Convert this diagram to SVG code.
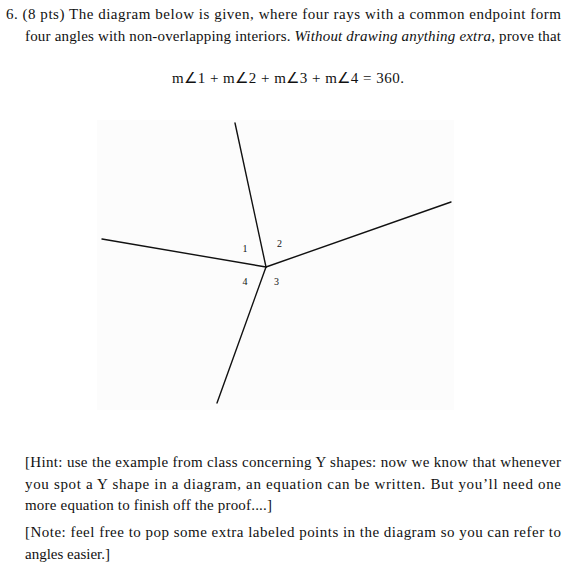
<svg xmlns="http://www.w3.org/2000/svg" width="568" height="569" viewBox="0 0 568 569">
<style>
.t{font-family:"Liberation Serif","Times New Roman",serif;font-size:15px;fill:#111}
.lb{font-family:"Liberation Serif","Times New Roman",serif;font-size:10px;fill:#111;text-anchor:middle}
.ray{stroke:#111;stroke-width:1.4;fill:none;stroke-linecap:round}
</style>
<rect width="568" height="569" fill="#ffffff"/>
<g id="problem-text">
<text class="t" x="6" y="19" textLength="555" lengthAdjust="spacing">6. (8 pts)  The diagram below is given, where four rays with a common endpoint form</text>
<text class="t" x="25" y="41" textLength="536" lengthAdjust="spacing">four angles with non-overlapping interiors. <tspan font-style="italic">Without drawing anything extra</tspan>, prove that</text>
<text class="t" x="172" y="83" textLength="232" lengthAdjust="spacing">m∠1 + m∠2 + m∠3 + m∠4 = 360.</text>
</g>
<g id="diagram">
<rect x="97" y="120" width="357" height="290" fill="#fcfcfc"/>
<g id="connectors">
<line class="ray" x1="266" y1="267" x2="235" y2="123"/>
<line class="ray" x1="266" y1="267" x2="451" y2="202"/>
<line class="ray" x1="266" y1="267" x2="102" y2="239"/>
<line class="ray" x1="266" y1="267" x2="217" y2="403"/>
</g>
<g id="label-1"><text class="lb" x="245" y="252">1</text></g>
<g id="label-2"><text class="lb" x="279.5" y="247">2</text></g>
<g id="label-3"><text class="lb" x="276.5" y="284.5">3</text></g>
<g id="label-4"><text class="lb" x="245" y="284.5">4</text></g>
</g>
<g id="hint-text">
<text class="t" x="25" y="467" textLength="536" lengthAdjust="spacing">[Hint:  use the example from class concerning Y shapes:  now we know that whenever</text>
<text class="t" x="25" y="489" textLength="536" lengthAdjust="spacing">you spot a Y shape in a diagram, an equation can be written.  But you’ll need one</text>
<text class="t" x="25" y="510" textLength="247" lengthAdjust="spacing">more equation to finish off the proof....]</text>
<text class="t" x="25" y="537" textLength="536" lengthAdjust="spacing">[Note:  feel free to pop some extra labeled points in the diagram so you can refer to</text>
<text class="t" x="25" y="559" textLength="85" lengthAdjust="spacing">angles easier.]</text>
</g>
</svg>
